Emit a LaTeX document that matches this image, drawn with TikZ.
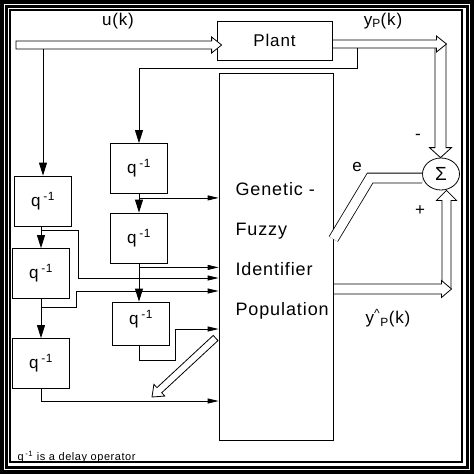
\documentclass[tikz,border=0pt]{standalone}
\usepackage{fontspec}
\setmainfont{Liberation Sans}[LetterSpace=5]
\usetikzlibrary{arrows.meta,shapes.geometric,calc}

\begin{document}
\begin{tikzpicture}
	[ x=1pt, y=-1pt,
	  font=\fontsize{17}{20}\selectfont,
	  box/.style={ draw, line width=0.8pt, inner sep=0pt},
	  delay/.style={ box, minimum width=57pt, minimum height=50pt},
	  sig/.style={ line width=0.8pt, -{Triangle[length=11pt,width=5pt]}},
	  vsig/.style={ line width=0.8pt, -{Triangle[length=13pt,width=8pt]}},
	  hollow/.style 2 args={ draw, fill=white, line width=0.8pt,
		to path={
		  ($(\tikztotarget)!10pt!(\tikztostart)$) coordinate (hb)
		  ($(\tikztostart)!#1!90:(\tikztotarget)$)
		  -- ($(hb)!#1!90:(\tikztotarget)$)
		  -- ($(hb)!#2!90:(\tikztotarget)$)
		  -- (\tikztotarget)
		  -- ($(hb)!#2!-90:(\tikztotarget)$)
		  -- ($(hb)!#1!-90:(\tikztotarget)$)
		  -- ($(\tikztostart)!#1!-90:(\tikztotarget)$)
		  -- cycle}},
	  twin/.style={ double, line width=0.8pt, double distance=#1},
	]
	\useasboundingbox (0,0) rectangle (474,474);
	% frame
	\draw[line width=4pt] (2,2) rectangle (472,472);
	\draw[line width=2.5pt] (6.5,6.5) rectangle (467.5,467.5);
	\draw[line width=1.5pt] (10,10) rectangle (462,462);

	% blocks
	\node[box, minimum width=115pt, minimum height=39pt] (plant) at (274.5,40.5) {Plant};
	\node[box, minimum width=114pt, minimum height=367pt] (ident) at (276,256.5) {};
	\foreach \w [count=\i] in {Genetic -, Fuzzy, Identifier, Population}
		\node[anchor=base west, font=\fontsize{18}{20}\selectfont] (id\i) at (232,155+40*\i) {\w};

	\node[delay] (L1) at (43,201) {q\,\textsuperscript{-1}};
	\node[delay] (L2) at (41,273.5) {q\,\textsuperscript{-1}};
	\node[delay] (L3) at (41,363.5) {q\,\textsuperscript{-1}};
	\node[delay] (M1) at (139,168.5) {q\,\textsuperscript{-1}};
	\node[delay] (M2) at (139,238) {q\,\textsuperscript{-1}};
	\node[delay, minimum height=43pt, text depth=12pt] (M3) at (141,323.5) {q\,\textsuperscript{-1}};

	\node[box, ellipse, minimum width=37pt, minimum height=32pt, font=\fontsize{19}{20}\selectfont] (sum) at (441,174) {Σ};

	% labels
	\node (uk) at (118,21) {u(k)};
	\node (yp) at (383,21) {y\textsubscript{P}(k)};
	\node (yhat) at (388,318) {y\textsuperscript{\textasciicircum}\textsubscript{P}(k)};
	\node (err) at (357,167) {e};
	\node (minus) at (418,137) {-};
	\node (plus) at (420,211) {+};
	\node[anchor=base west, font=\fontsize{11}{13}\selectfont] (note) at (14,460)
		{q\,\textsuperscript{-1} is a delay operator};

	% input u(k)
	\coordinate (uin) at (16,45);
	\coordinate (uend) at ($(uin -| plant.west)+(5,0)$);
	\coordinate (utap) at (43,49);
	\draw[hollow={4pt}{8pt}] (uin) to (uend);
	\draw[vsig] (utap) -- (L1.north);

	% plant output to the sum
	\coordinate (ycorner) at (440.5,44);
	\coordinate (yout) at (plant.east |- ycorner);
	\coordinate (yend) at ($(ycorner)+(6,0)$);
	\coordinate (ydown) at (ycorner |- sum.north);
	\coordinate (ytap) at (357,48);
	\draw[hollow={5.5pt}{11pt}] (ycorner) to (ydown);
	\draw[hollow={4pt}{8pt}] (yout) to (yend);
	\draw[vsig] (ytap) -- ++(0,20) -| (M1.north);

	% delay chain, middle
	\draw[vsig] (M1) -- (M2);
	\draw[vsig] (M2.south) -- (M2.south |- M3.north);
	\coordinate (t1) at ($(M1.south)+(0,4)$);
	\coordinate (t2) at ($(M2.south)+(0,4)$);
	\draw[sig] (t1) -- (t1 -| ident.west);
	\draw[sig] (t2) -- (t2 -| ident.west);
	\draw[sig] (M3.south -| M2) -- ++(0,15) -- ++(36,0) |- (ident.west |- 0,329);

	% delay chain, left
	\draw[vsig] (L1.south -| L2) -- (L2.north);
	\draw[vsig] (L2) -- (L3);
	\coordinate (t3) at ($(L1.south -| L2)+(0,4)$);
	\coordinate (t4) at ($(L2.south)+(0,8)$);
	\draw[sig] (t3) -- ++(37,0) |- (ident.west |- 0,278);
	\draw[sig] (t4) -- ++(35,0) |- (ident.west |- 0,291);
	\draw[sig] (L3.south) |- (ident.west |- 0,401);

	% population update
	\coordinate (dstart) at ($(ident.west |- 0,338)+(-3,0)$);
	\coordinate (dend) at (152,397);
	\draw[hollow={3.5pt}{8pt}] (dstart) to (dend);

	% identifier output and error
	\coordinate (ecorner) at (446.5,289);
	\coordinate (eout) at (ident.east |- ecorner);
	\coordinate (eend) at ($(ecorner)+(5,0)$);
	\coordinate (eup) at (ecorner |- sum.south);
	\draw[hollow={4.5pt}{10pt}] (ecorner) to (eup);
	\draw[hollow={5pt}{8.5pt}] (eout) to (eend);
	\draw[twin=9pt] (sum.west |- 0,178) -- ++(-52,0) -- (ident.east |- 0,239);
\end{tikzpicture}
\end{document}
